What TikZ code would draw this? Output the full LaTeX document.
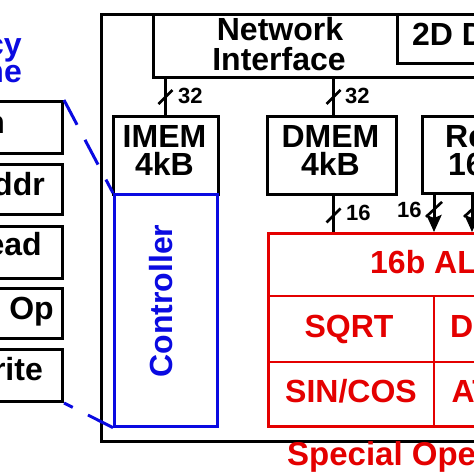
\documentclass[tikz,border=0pt]{standalone}
\usepackage{fontspec}
\setmainfont{Liberation Sans}
\usetikzlibrary{arrows.meta,calc}
\definecolor{cblue}{RGB}{10,10,225}
\definecolor{cred}{RGB}{228,0,0}
\begin{document}
\begin{tikzpicture}[x=1pt,y=-1pt,line join=miter,
  box/.style={draw,line width=3pt,anchor=north west,inner sep=0pt},
  rbox/.style={box,draw=cred,line width=2.6pt},
  bbox/.style={box,draw=cblue,line width=2.6pt},
  txt/.style={font=\fontsize{32}{34}\selectfont\bfseries,inner sep=0pt,anchor=base},
  small/.style={font=\fontsize{22}{24}\selectfont\bfseries,inner sep=0pt,anchor=base west},
  bus/.style={line width=3pt},
  tick/.style={line width=2.6pt},
  redl/.style={draw=cred,line width=2.6pt},
  blued/.style={draw=cblue,line width=3pt,dash pattern=on 28pt off 17pt},
  arr/.style={bus,-{Stealth[length=17pt,width=15pt,inset=3pt]}}]
\useasboundingbox (0,0) rectangle (474,474);
\clip (0,0) rectangle (474,474);
\fill[white] (0,0) rectangle (474,474);

% outer and top boxes
\node[box,minimum width=390pt,minimum height=427pt] (outer) at (100,13) {};
\node[box,minimum width=338pt,minimum height=63pt] (ni) at (152,13) {};
\node[box,minimum width=94pt,minimum height=49pt] (dma) at (396,13) {};
\node[txt] (nit1) at (280,40) {Network};
\node[txt] (nit2) at (279,70) {Interface};
\node[txt,anchor=base west] (dmat) at (412,45) {2D DMA};

% memories
\node[box,minimum width=105pt,minimum height=78pt] (imem) at (112,115) {};
\node[box,minimum width=129pt,minimum height=78pt] (dmem) at (266,115) {};
\node[box,minimum width=69pt,minimum height=77pt] (reg) at (421,115) {};
\node[txt] (imt1) at (164.5,147) {IMEM};
\node[txt] (imt2) at (164.5,175) {4kB};
\node[txt] (dmt1) at (330.5,147) {DMEM};
\node[txt] (dmt2) at (330.5,175) {4kB};
\node[txt,anchor=base west] (rgt1) at (445,147) {RegFile};
\node[txt,anchor=base west] (rgt2) at (448,175) {16x16b};

% controller
\node[bbox,minimum width=103pt,minimum height=232pt] (ctrl) at (113,193) {};
\node[txt,text=cblue,rotate=90] (ctt) at (172,301) {Controller};

% ALU block
\node[rbox,minimum width=223pt,minimum height=193pt] (alu) at (267,232) {};
\draw[redl] (267,296) -- (490,296);
\draw[redl] (267,362) -- (490,362);
\draw[redl] (434,296) -- (434,425);
\node[txt,text=cred,anchor=base west] (alut) at (370,273) {16b ALU};
\node[txt,text=cred] (sqrt) at (349,337) {SQRT};
\node[txt,text=cred] (sinc) at (351,402) {SIN/COS};
\node[txt,text=cred,anchor=base west] (divt) at (450,337) {DIV};
\node[txt,text=cred,anchor=base west] (atant) at (451.5,402) {ATAN};
\node[txt,text=cred,anchor=base west,font=\fontsize{33}{35}\selectfont\bfseries] (spec) at (287,465) {Special Operations};

% buses
\coordinate (imb) at ($(imem.north)+(-0.5,0)$);
\draw[bus] (imb |- ni.south) -- coordinate[pos=0.5] (m1) (imb);
\draw[tick] ($(m1)+(-7,7)$) -- ($(m1)+(7,-7)$);
\node[small] (l32a) at (178,103) {32};

\coordinate (dmb) at ($(dmem.north)+(1.5,0)$);
\draw[bus] (dmb |- ni.south) -- coordinate[pos=0.5] (m2) (dmb);
\draw[tick] ($(m2)+(-7,7)$) -- ($(m2)+(7,-7)$);
\node[small] (l32b) at (345,103) {32};

\coordinate (dmo) at ($(dmem.south)+(1.5,0)$);
\draw[bus] (dmo) -- coordinate[pos=0.54] (m3) (dmo |- alu.north);
\draw[tick] ($(m3)+(-7,7)$) -- ($(m3)+(7,-7)$);
\node[small] (l16a) at (346,220) {16};

\coordinate (ra) at ($(reg.south west)+(13,0)$);
\coordinate (rb) at ($(reg.south west)+(51,0)$);
\draw[arr] (ra) -- coordinate[pos=0.39] (m4) (ra |- alu.north);
\draw[tick] ($(m4)+(-8,7.5)$) -- ($(m4)+(8,-7.5)$);
\draw[arr] (rb) -- coordinate[pos=0.39] (m5) (rb |- alu.north);
\draw[tick] ($(m5)+(-8,7.5)$) -- ($(m5)+(8,-7.5)$);
\node[small] (l16b) at (397,217) {16};

% pipeline stages on the left
\node[box,minimum width=81pt,minimum height=52pt] (lb1) at (-20,100) {};
\node[box,minimum width=81pt,minimum height=50pt] (lb2) at (-20,163) {};
\node[box,minimum width=81pt,minimum height=52pt] (lb3) at (-20,225) {};
\node[box,minimum width=81pt,minimum height=50pt] (lb4) at (-20,287) {};
\node[box,minimum width=81pt,minimum height=52pt] (lb5) at (-20,348) {};
\node[txt,anchor=base east] (lt1) at (5,133) {Instruction};
\node[txt,anchor=base east] (lt2) at (45,195) {Gen Addr};
\node[txt,anchor=base east] (lt3) at (42,255) {Mem Read};
\node[txt,anchor=base east] (lt4) at (54,319) {Exec Op};
\node[txt,anchor=base east] (lt5) at (43,380) {Mem Write};
\node[txt,anchor=base east,text=cblue] (pl1) at (22,55) {Latency};
\node[txt,anchor=base east,text=cblue] (pl2) at (22,82) {Pipeline};

\draw[blued] (lb1.north east) -- (ctrl.north west);
\draw[blued] (ctrl.south west) -- (lb5.south east);
\end{tikzpicture}
\end{document}
